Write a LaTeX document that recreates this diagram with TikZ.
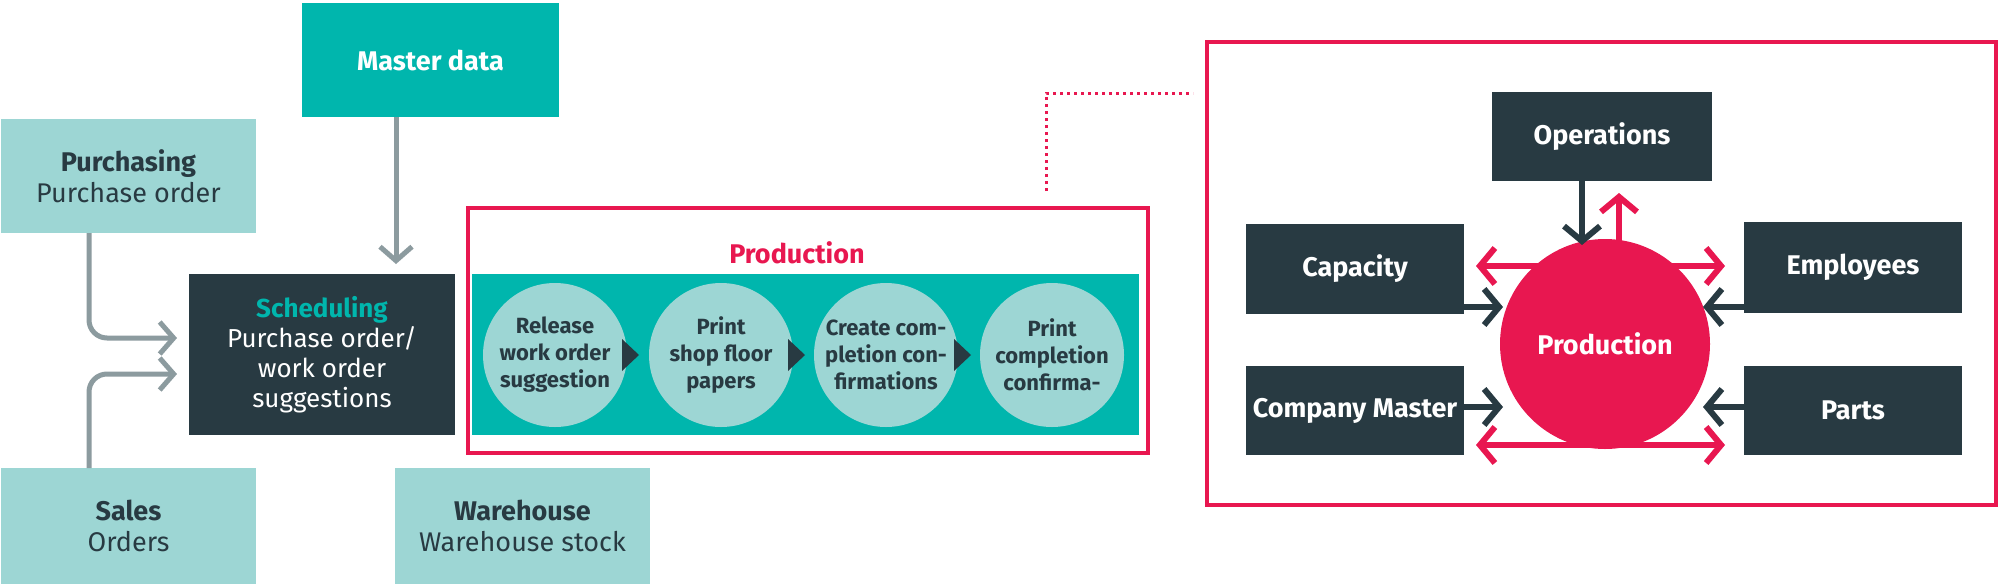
\documentclass[tikz,border=0pt]{standalone}
\usepackage{fontspec}
\setmainfont{Fira Sans}
\usetikzlibrary{arrows.meta}
\definecolor{teal}{RGB}{0,182,173}
\definecolor{lteal}{RGB}{157,214,212}
\definecolor{dark}{RGB}{40,58,66}
\definecolor{pink}{RGB}{232,23,80}
\definecolor{gry}{RGB}{140,155,159}
\begin{document}
\begin{tikzpicture}[x=1pt,y=-1pt,
  box/.style={rectangle,inner sep=0pt,align=center,font=\fontsize{27}{31}\selectfont},
  lbox/.style={box,fill=lteal,text=dark},
  dbox/.style={box,fill=dark,text=white,font=\fontsize{27}{31}\selectfont\bfseries},
  stepc/.style={circle,fill=lteal,minimum size=144pt,inner sep=0pt,align=center,text=dark,font=\fontsize{22}{27}\selectfont\bfseries},
  garr/.style={draw=gry,line width=5pt,rounded corners=18pt,-{Straight Barb[length=14pt,width=32pt,line width=5pt]}},
  darr/.style={draw=dark,line width=6pt,-{Straight Barb[length=15pt,width=36pt,line width=6pt]}},
  parr/.style={draw=pink,line width=6pt,-{Straight Barb[length=15pt,width=36pt,line width=6pt]}},
  tri/.style={fill=dark}]
\useasboundingbox[fill=white] (0,0) rectangle (2000,584);
% left boxes
\node[box,fill=teal,text=white,font=\fontsize{27}{31}\selectfont\bfseries,minimum width=257pt,minimum height=114pt] (md) at (430.5,60) {Master data};
\node[lbox,minimum width=255pt,minimum height=114pt] (pur) at (128.5,176) {\textbf{Purchasing}\\Purchase order};
\node[lbox,minimum width=255pt,minimum height=116pt] (sal) at (128.5,526) {\textbf{Sales}\\Orders};
\node[lbox,minimum width=255pt,minimum height=116pt] (wh) at (522.5,526) {\textbf{Warehouse}\\Warehouse stock};
\node[box,fill=dark,text=white,minimum width=266pt,minimum height=161pt,font=\fontsize{26}{30}\selectfont] (sch) at (322,354.5) {{\color{teal}\bfseries Scheduling}\\Purchase order/\\work order\\suggestions};
\coordinate (mdend) at (396,264);
\draw[garr] (396,117) -- (mdend);
\draw[garr] (89,233) |- (177,338);
\draw[garr] (89,468) |- (177,374);
% production
\node[draw=pink,line width=3.5pt,minimum width=680pt,minimum height=245pt,inner sep=0pt] (pbox) at (808,330.5) {};
\node[text=pink,font=\fontsize{27}{31}\selectfont\bfseries] (ptitle) at (797,253) {Production};
\node[fill=teal,minimum width=667pt,minimum height=161pt,inner sep=0pt] (band) at (805.5,354.5) {};
\node[stepc] (s1) at (555,355) {Release\\work order\\suggestion};
\node[stepc] (s2) at (721,355) {Print\\shop floor\\papers};
\node[stepc] (s3) at (886,355) {Create com-\\pletion con-\\firmations};
\node[stepc] (s4) at (1052,355) {Print\\completion\\confirma-};
\foreach \x in {630,796,962}{\fill[tri] (\x-8,339) -- (\x+9,355) -- (\x-8,371) -- cycle;}
% dotted
\coordinate (d1) at (1046,191); \coordinate (d2) at (1046,93); \coordinate (d3) at (1193,93);
\draw[pink,line width=3pt,dash pattern=on 3pt off 4pt] (d1) -- (d2) -- (d3);
% right
\node[draw=pink,line width=3.5pt,minimum width=789pt,minimum height=463pt,inner sep=0pt] (rbox) at (1601.5,273.5) {};
\node[dbox,minimum width=220pt,minimum height=89pt] (ops) at (1602,136.5) {Operations};
\node[dbox,minimum width=218pt,minimum height=90pt] (cap) at (1355,269) {Capacity};
\node[dbox,minimum width=218pt,minimum height=91pt] (emp) at (1853,267.5) {Employees};
\node[dbox,minimum width=218pt,minimum height=89pt] (cm) at (1355,410.5) {Company Master};
\node[dbox,minimum width=218pt,minimum height=89pt] (prt) at (1853,410.5) {Parts};
\coordinate (pc) at (1605,344);
\coordinate (up) at (1619,193);
\coordinate (pl1) at (1476,266); \coordinate (pr1) at (1725,266);
\coordinate (pl2) at (1476,445); \coordinate (pr2) at (1725,445);
\draw[parr] (1619,300) -- (up);
\draw[parr] (1605,266) -- (pl1);
\draw[parr] (1605,266) -- (pr1);
\draw[parr] (1605,445) -- (pl2);
\draw[parr] (1605,445) -- (pr2);
\node[circle,fill=pink,minimum size=210pt,inner sep=0pt,text=white,font=\fontsize{27}{31}\selectfont\bfseries] (prod) at (pc) {Production};
\draw[darr] (ops.south -| 1582,0) -- (1582,245);
\draw[darr] (cap.east |- 0,307) -- (1503,307);
\draw[darr] (emp.west |- 0,307) -- (1703,307);
\draw[darr] (cm.east |- 0,407) -- (1503,407);
\draw[darr] (prt.west |- 0,407) -- (1703,407);
\end{tikzpicture}
\end{document}
